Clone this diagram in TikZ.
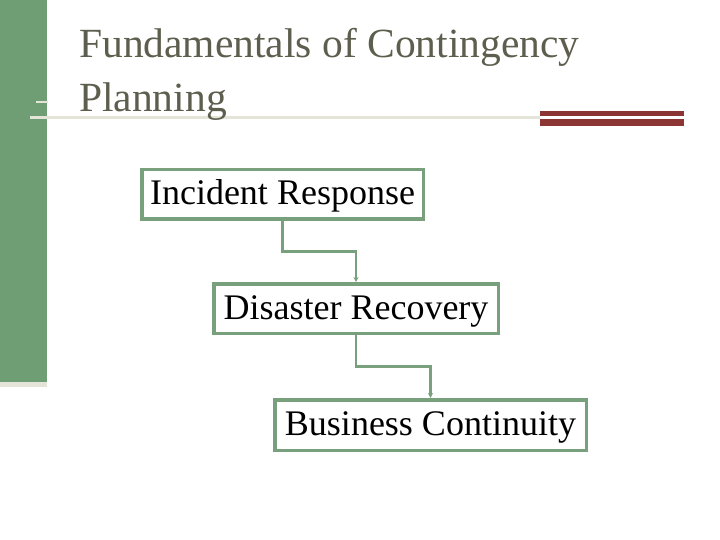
\documentclass[tikz,border=0pt]{standalone}
\usepackage{fontspec}
\setmainfont{Liberation Serif}
\usetikzlibrary{calc,arrows.meta}
\definecolor{bargreen}{HTML}{6F9E74}
\definecolor{boxgreen}{HTML}{79A07C}
\definecolor{titlegray}{HTML}{5E5E4E}
\definecolor{rulegray}{HTML}{E4E4D8}
\definecolor{darkred}{HTML}{8B3535}
\tikzset{
  stagebox/.style={draw=boxgreen, line width=3.5pt, fill=white, inner sep=0pt,
    text height=26pt, text depth=5pt, font=\fontsize{36}{40}\selectfont},
  conn/.style={draw=boxgreen, line width=2.2pt, -{Stealth[length=5pt,width=5pt]}}
}
\begin{document}
\begin{tikzpicture}[x=1pt,y=-1pt]
  \useasboundingbox (0,0) rectangle (720,540);
  % side bar and rules
  \fill [bargreen] (0,0) rectangle (47,382);
  \fill [rulegray] (0,382) rectangle (47,387);
  \draw [rulegray, line width=1.5pt] (36,102) -- (48,102);
  \draw [rulegray, line width=2.8pt] (30,117.5) -- (540,117.5);
  \fill [darkred] (540,111) rectangle (684,116);
  \fill [darkred] (540,119) rectangle (684,126.5);
  % title
  \node [anchor=base west, text=titlegray, font=\fontsize{41.5}{56}\selectfont, inner sep=0pt] (title) at (79,58) {Fundamentals of Contingency};
  \node [anchor=base west, text=titlegray, font=\fontsize{41.5}{56}\selectfont, inner sep=0pt] (title2) at (79,112) {Planning};
  % boxes
  \node [stagebox, minimum width=281.5pt, minimum height=49.5pt] (ir) at (282.5,194.5) {Incident Response};
  \node [stagebox, minimum width=284.5pt, minimum height=49.5pt] (dr) at (356,308.5) {Disaster Recovery};
  \node [stagebox, minimum width=311.5pt, minimum height=50.5pt] (bc) at (430.5,425) {Business Continuity};
  % connectors
  \coordinate (m1) at ($(ir.south)!0.5!(dr.north)$);
  \coordinate (m2) at ($(dr.south)!0.5!(bc.north)$);
  \draw [conn] (ir.south) -- (ir.south |- m1) -| (dr.north);
  \draw [conn] (dr.south) -- (dr.south |- m2) -| (bc.north);
\end{tikzpicture}
\end{document}
